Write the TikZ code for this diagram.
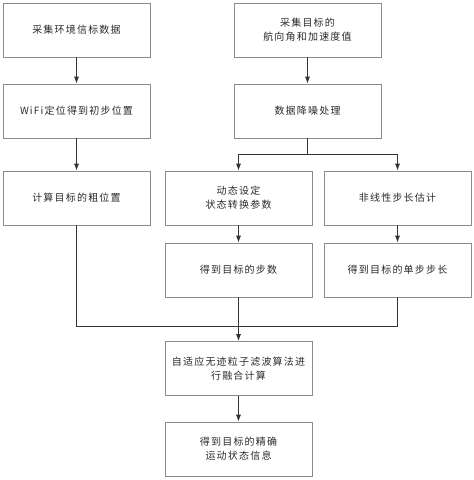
\documentclass[tikz,border=0pt]{standalone}
\usepackage{fontspec}
\newfontfamily\cjk[LetterSpace=12]{Noto Sans CJK SC}
\usetikzlibrary{arrows.meta}
\definecolor{boxc}{HTML}{8C8C8C}
\definecolor{linec}{HTML}{333333}
\definecolor{txtc}{HTML}{2A2A2A}
\begin{document}
\begin{tikzpicture}[x=1pt,y=-1pt,
  stepbox/.style={draw=boxc,line width=0.8pt,minimum width=147pt,minimum height=54pt,
     align=center,font=\cjk\fontsize{10}{14}\selectfont,text=txtc,inner sep=0pt},
  conn/.style={draw=linec,line width=0.8pt},
  arr/.style={conn,-{Latex[length=7pt,width=5pt]}}]
\useasboundingbox (0,0) rectangle (474,480);
\node[stepbox] (a) at (76.5,30) {采集环境信标数据};
\node[stepbox] (b) at (307.5,30) {采集目标的\\航向角和加速度值};
\node[stepbox] (c) at (76.5,111) {WiFi定位得到初步位置};
\node[stepbox] (d) at (307.5,111) {数据降噪处理};
\node[stepbox] (e) at (76.5,198) {计算目标的粗位置};
\node[stepbox] (f) at (238.5,198) {动态设定\\状态转换参数};
\node[stepbox] (g) at (397.5,198) {非线性步长估计};
\node[stepbox] (h) at (238.5,270) {得到目标的步数};
\node[stepbox] (i) at (397.5,270) {得到目标的单步步长};
\node[stepbox] (j) at (238.5,368.5) {自适应无迹粒子滤波算法进\\行融合计算};
\node[stepbox] (k) at (238.5,449) {得到目标的精确\\运动状态信息};
\coordinate (fork) at (307.5,154);
\coordinate (merge) at (238.5,326);
\draw[arr] (a) -- (c);
\draw[arr] (c) -- (e);
\draw[arr] (b) -- (d);
\draw[conn] (d) -- (fork);
\draw[arr] (fork) -| (f);
\draw[arr] (fork) -| (g);
\draw[arr] (f) -- (h);
\draw[arr] (g) -- (i);
\draw[conn] (e.south) |- (merge);
\draw[conn] (i.south) |- (merge);
\draw[conn] (h) -- (merge);
\draw[arr] (merge) -- (j);
\draw[arr] (j) -- (k);
\end{tikzpicture}
\end{document}
